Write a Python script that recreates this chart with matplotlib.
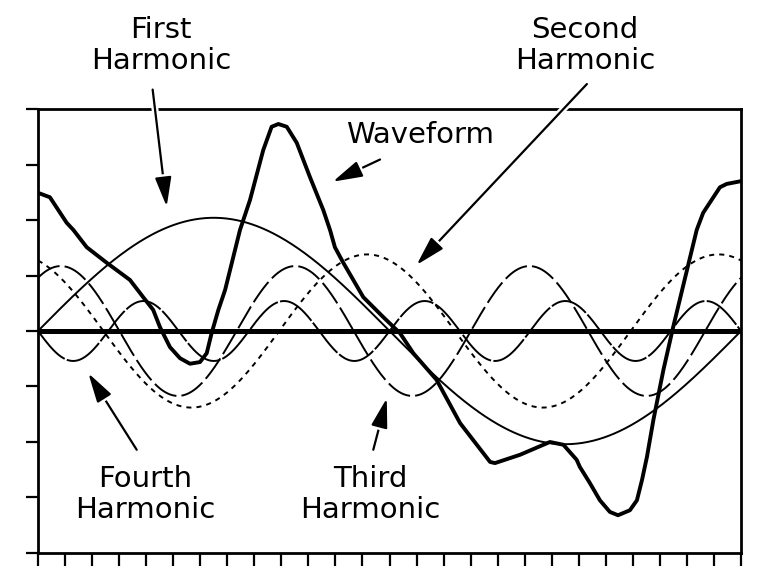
import numpy as np
import matplotlib
matplotlib.use("Agg")
import matplotlib.pyplot as plt
import matplotlib.patheffects as pe

# x runs over one period of the fundamental, 26 tick steps wide
x_ticks = list(range(0, 27))
y_ticks = list(range(-4, 5))

# harmonic components: cycles per period, amplitude, phase (deg)
harm_cycles = [1, 2, 3, 5]
harm_amp = [2.04, 1.38, 1.17, 0.54]
harm_phase = [0, 113, 55, 180]

# traced waveform
wave_x = [0, 0.44, 1.06, 1.31, 1.80, 2.54, 3.40, 3.89, 4.26, 4.51, 4.88, 5.25,
          5.62, 5.99, 6.24, 6.42, 6.67, 6.92, 7.47, 7.84, 8.33, 8.64, 8.89, 9.20, 9.57,
          10.06, 10.55, 10.80, 10.98, 11.29, 12.03, 12.77, 13.39, 13.88, 14.74,
          15.61, 16.72, 16.90, 17.83, 18.93, 19.43, 19.92, 20.04, 20.41, 20.78,
          21.15, 21.45, 21.89, 22.15, 22.34, 22.52, 22.76, 23.13, 23.49, 24.36,
          24.60, 25.22, 25.47, 26.0]
wave_y = [2.49, 2.41, 1.95, 1.82, 1.51, 1.23, 0.92, 0.61, 0.38, 0.07, -0.29, -0.49,
          -0.59, -0.56, -0.40, -0.04, 0.38, 0.74, 1.82, 2.36, 3.26, 3.68, 3.73, 3.68, 3.39,
          2.77, 2.18, 1.82, 1.51, 1.23, 0.61, 0.25, -0.04, -0.40, -0.88,
          -1.66, -2.36, -2.38, -2.23, -2.00, -2.05, -2.32, -2.45, -2.74, -3.05,
          -3.26, -3.32, -3.23, -3.05, -2.68, -2.27, -1.60, -0.70, 0.07, 1.82,
          2.13, 2.59, 2.65, 2.70]

# labels: text, text position, arrow tail, arrow tip
labels = ["First\nHarmonic", "Second\nHarmonic", "Waveform",
          "Fourth\nHarmonic", "Third\nHarmonic"]
label_pos = [(4.55, 5.14), (20.23, 5.14), (14.13, 3.53), (3.96, -2.95), (12.28, -2.95)]
arrow_tail = [(4.24, 4.35), (20.30, 4.45), (12.65, 3.09), (3.65, -2.14), (12.40, -2.14)]
arrow_tip = [(4.76, 2.24), (14.0, 1.19), (10.90, 2.69), (1.86, -0.76), (12.90, -1.21)]

fig = plt.figure(figsize=(7.57, 5.66), dpi=100)
ax = fig.add_axes([0.0502, 0.023, 0.9287, 0.7844])

xs = np.linspace(0, 26, 800)
theta = xs / 26 * 2 * np.pi
styles = ["-", (0, (2.6, 2.6)), (0, (12.9, 2.6)), (0, (20, 1.2))]
for n, a, ph, ls in zip(harm_cycles, harm_amp, harm_phase, styles):
    ax.plot(xs, a * np.sin(n * theta + np.radians(ph)), color="black", lw=1.4, ls=ls)

ax.plot(wave_x, wave_y, color="black", lw=2.8, solid_joinstyle="round")
ax.axhline(0, color="black", lw=3.6)

ax.set_xlim(0, 26)
ax.set_ylim(-4, 4)
ax.set_xticks(x_ticks)
ax.set_yticks(y_ticks)
ax.set_xticklabels([])
ax.set_yticklabels([])
ax.tick_params(direction="out", length=9, width=1.6, color="black")
for s in ax.spines.values():
    s.set_linewidth(2)

for txt, pos, tail, tip in zip(labels, label_pos, arrow_tail, arrow_tip):
    ax.text(pos[0], pos[1], txt, ha="center", va="center", fontsize=21,
            linespacing=1.15, clip_on=False)
    ann = ax.annotate("", xy=tip, xytext=tail, annotation_clip=False, zorder=5,
                      arrowprops=dict(arrowstyle="-|>,head_length=0.9,head_width=0.25",
                                      mutation_scale=20, lw=1.6, color="black",
                                      shrinkA=0, shrinkB=0))
    ann.arrow_patch.set_path_effects([pe.withStroke(linewidth=5, foreground="white")])

fig.savefig("out.png", dpi=100)
